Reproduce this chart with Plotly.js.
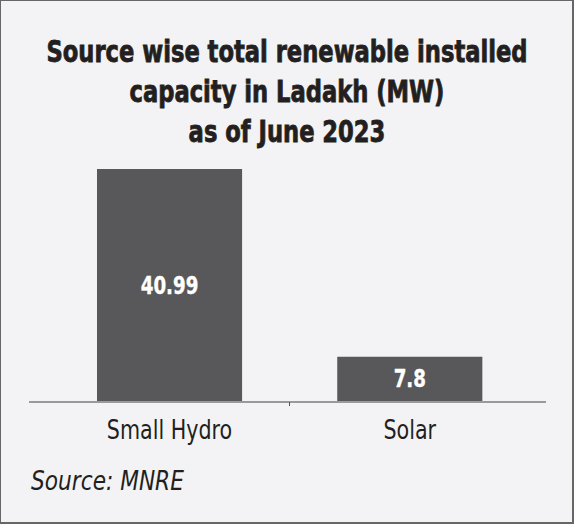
<!DOCTYPE html>
<html>
<head>
<meta charset="utf-8">
<script src="https://cdn.plot.ly/plotly-3.0.1.min.js"></script>
<style>
  html, body { margin: 0; padding: 0; background: #f3f3f5; }
  #wrap { position: absolute; left: 0; top: 0; width: 574px; height: 524px; box-sizing: border-box; border: 2px solid #666; border-left-width: 1px; border-top-width: 1px; overflow: hidden; }
  #chart { position: absolute; left: -1px; top: -1px; width: 574px; height: 524px; }
</style>
</head>
<body>
<div id="wrap"><div id="chart"></div></div>
<script>
const categories = ["Small Hydro", "Solar"];
const capacityMW = [40.99, 7.8];
const valueLabels = ["40.99", "7.8"];
const titleLines = ["Source wise total renewable installed", "capacity in Ladakh (MW)", "as of June 2023"];
const sourceNote = "Source: MNRE";

const FONT = "'DejaVu Sans Condensed', 'Liberation Sans Narrow', sans-serif";

const data = [{
  type: "bar",
  x: categories,
  y: capacityMW,
  text: valueLabels,
  textposition: "inside",
  insidetextanchor: "middle",
  constraintext: "none",
  textangle: 0,
  textfont: { family: FONT, size: 25, color: "#ffffff", weight: 700 },
  marker: { color: "#58585a", line: { width: 0 } },
  width: 0.604,
  hoverinfo: "none"
}, {
  type: "scatter",
  x: [], y: [],
  xaxis: "x2", yaxis: "y",
  showlegend: false
}];

const layout = {
  width: 574, height: 524,
  paper_bgcolor: "#f3f3f5",
  plot_bgcolor: "#f3f3f5",
  showlegend: false,
  margin: { l: 29, r: 28, t: 169, b: 123, pad: 0 },
  title: {
    text: titleLines.join("<br>"),
    font: { family: FONT, size: 31, color: "#231f20", weight: 700 },
    x: 0.5, xref: "container", xanchor: "center",
    y: 0.882, yref: "container", yanchor: "top"
  },
  xaxis: {
    type: "category",
    range: [-0.585, 1.567],
    showline: true, linecolor: "#9a9a9a", linewidth: 2,
    ticks: "", showgrid: false, zeroline: false,
    tickfont: { family: FONT, size: 27, color: "#231f20" },
    ticklabelstandoff: 4,
    fixedrange: true
  },
  xaxis2: {
    overlaying: "x",
    range: [-0.585, 1.567],
    tickmode: "array", tickvals: [0.5],
    ticks: "outside", ticklen: 4, tickwidth: 1, tickcolor: "#555",
    showticklabels: false, showgrid: false, zeroline: false, showline: false,
    side: "bottom",
    fixedrange: true
  },
  yaxis: {
    range: [0, 41],
    visible: false, showgrid: false, zeroline: false,
    fixedrange: true
  },
  annotations: [{
    text: sourceNote,
    xref: "paper", yref: "paper",
    x: 0, y: -0.342, xanchor: "left", yanchor: "middle",
    showarrow: false,
    font: { family: FONT, size: 26.5, color: "#231f20", style: "italic" }
  }]
};

// Narrow the DejaVu text horizontally to mimic the condensed newspaper face
function condense(root, selector, factor, anchor, stroke) {
  root.querySelectorAll(selector).forEach(function (el) {
    const bb = el.getBBox();
    const cx = anchor === "start" ? bb.x : bb.x + bb.width / 2;
    const prev = el.getAttribute("transform") || "";
    el.setAttribute("transform", prev + " translate(" + cx + ",0) scale(" + factor + ",1) translate(" + (-cx) + ",0)");
    if (stroke) {
      el.style.stroke = el.style.fill || "#231f20";
      el.style.strokeWidth = stroke + "px";
    }
  });
}

Plotly.newPlot("chart", data, layout, { displayModeBar: false, staticPlot: true }).then(function (gd) {
  condense(gd, ".gtitle", 0.812, "middle", 0.8);
  condense(gd, ".xtick text", 0.85, "middle");
  condense(gd, "text.bartext", 0.81, "middle", 0.4);
  condense(gd, ".annotation-text", 0.91, "start");
});
</script>
</body>
</html>
